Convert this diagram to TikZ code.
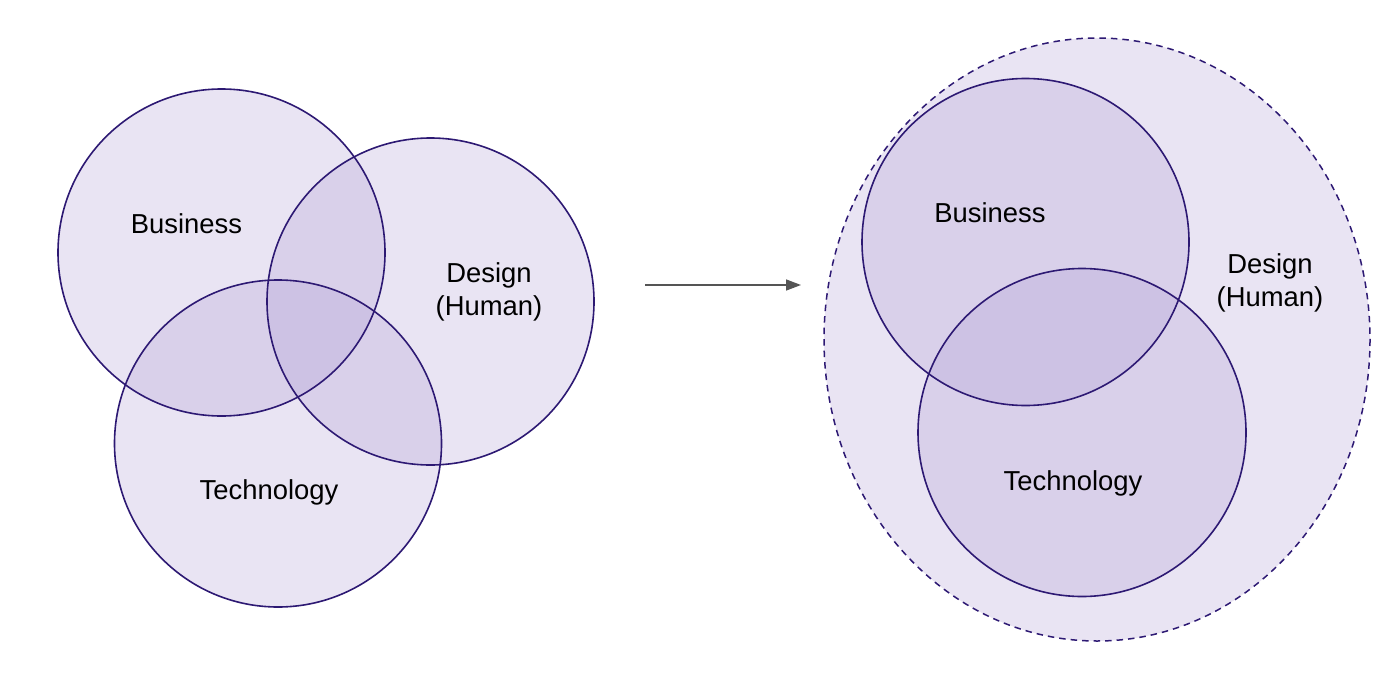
\documentclass[tikz,border=0pt]{standalone}
\usepackage{fontspec}
\setmainfont{Liberation Sans}
\usepackage{tikz}
\usetikzlibrary{positioning}
\usetikzlibrary{arrows.meta}
\definecolor{setfill}{RGB}{173,155,211}
\definecolor{setline}{RGB}{45,25,115}
\definecolor{arrowgray}{RGB}{85,85,85}

\begin{document}
\begin{tikzpicture}[x=1pt, y=-1pt, line width=1.6pt,
        setfill/.style={fill=setfill, fill opacity=0.27},
        setline/.style={draw=setline},
        lbl/.style={font=\fontsize{27.4}{33}\selectfont, align=center, text=black}]

        \useasboundingbox (0,0) rectangle (1400,685);

        % Left: three overlapping sets
        \coordinate (B) at (221.5,252.5);
        \coordinate (D) at (430.5,301.5);
        \coordinate (T) at (278,443.5);

        \fill[setfill] (B) circle (163.5);
        \fill[setfill] (D) circle (163.5);
        \fill[setfill] (T) circle (163.5);
        \draw[setline] (B) circle (163.5);
        \draw[setline] (D) circle (163.5);
        \draw[setline] (T) circle (163.5);

        \node[lbl] (b) at (186.5,223.5) {Business};
        \node[lbl] (d) at (489,291.5) {Design\\(Human)};
        \node[lbl] (t) at (269,492) {Technology};

        % Arrow
        \coordinate (from) at (645,285);
        \coordinate (to) at (801,285);
        \draw[arrowgray, line width=1.5pt, -{Triangle[length=15pt, width=11pt]}] (from) -- (to);

        % Right: design around the rest
        \begin{scope}
        \coordinate (D2) at (1097,339.5);
        \coordinate (B2) at (1025.5,242);
        \coordinate (T2) at (1082,432.5);

        \fill[setfill] (D2) ellipse [x radius=273, y radius=301.5];
        \fill[setfill] (B2) circle (163.5);
        \fill[setfill] (T2) circle (164);
        \draw[setline, line width=1.5pt, dash pattern=on 6.5pt off 5pt] (D2) ellipse [x radius=273, y radius=301.5];
        \draw[setline] (B2) circle (163.5);
        \draw[setline] (T2) circle (164);

        \node[lbl] (b2) at (990,213) {Business};
        \node[lbl] (d2) at (1270,283) {Design\\(Human)};
        \node[lbl] (t2) at (1073,483.5) {Technology};
        \end{scope}

\end{tikzpicture}
\end{document}
